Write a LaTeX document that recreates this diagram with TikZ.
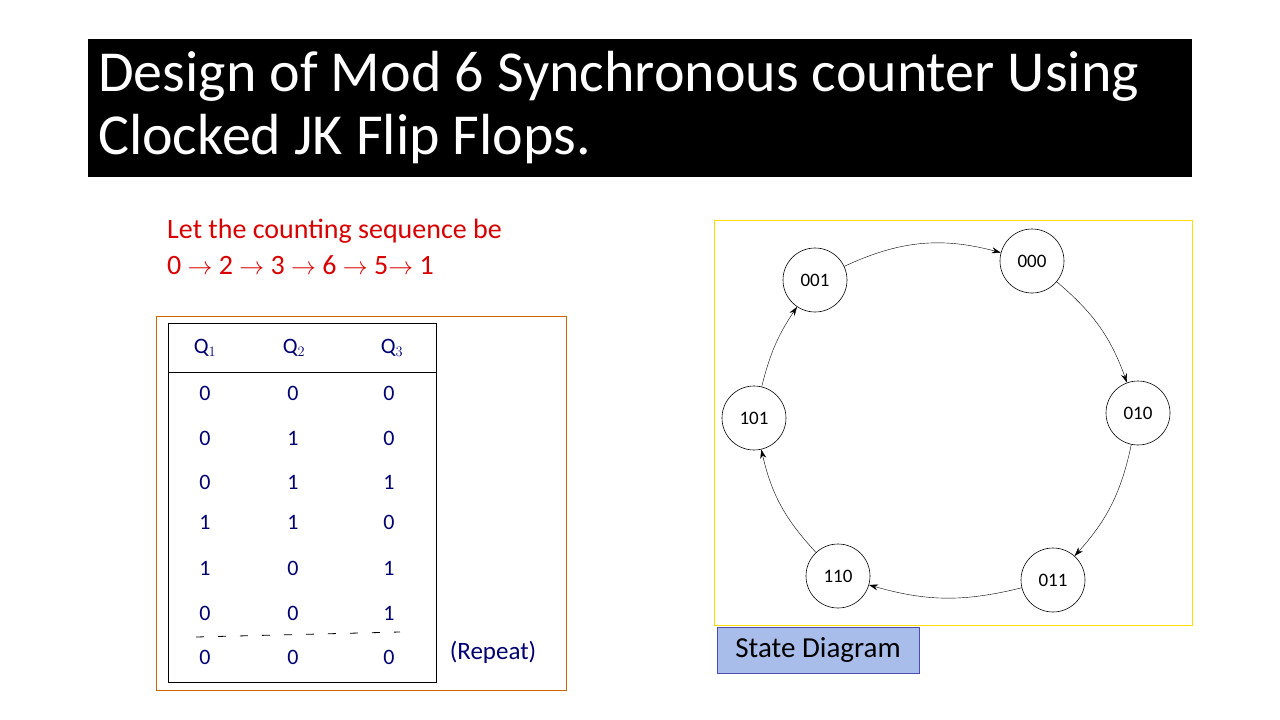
\documentclass[tikz,border=0pt]{standalone}
\usepackage{fontspec}
\setmainfont{Carlito}
\usetikzlibrary{arrows.meta}
\definecolor{sdblue}{HTML}{A9BDEB}
\begin{document}
\begin{tikzpicture}[x=1pt,y=-1pt,
  st/.style={circle,draw,semithick,minimum size=64pt,inner sep=0pt,font=\fontsize{19}{20}\selectfont},
  tr/.style={-{Stealth[length=9pt,width=6pt]},thin},
  hw/.style={text=blue!45!black,font=\fontsize{22}{24}\selectfont}]
\useasboundingbox (0,0) rectangle (1280,720);
\fill[white] (0,0) rectangle (1280,720);
\node[fill=black,minimum width=1104pt,minimum height=138pt,anchor=north west,inner sep=0pt] (title) at (88,39) {};
\node[text=white,anchor=north west,align=left,font=\fontsize{58}{63}\selectfont,inner sep=0pt] (tt) at (98,51) {Design of Mod 6 Synchronous counter Using\\Clocked JK Flip Flops.};
\node[text=red!85!black,anchor=north west,align=left,font=\fontsize{28}{36}\selectfont,inner sep=0pt] (seq) at (167,219) {Let the counting sequence be\\0 $\rightarrow$ 2 $\rightarrow$ 3 $\rightarrow$ 6 $\rightarrow$ 5$\rightarrow$ 1};
\draw[orange!80!black] (156,316) rectangle (566,690);
\draw[thick] (168,323) rectangle (436,682);
\draw[thick] (168,372) -- (436,372);
\node[hw] (h1) at (205,348) {Q$_1$};
\node[hw] (h2) at (294,348) {Q$_2$};
\node[hw] (h3) at (392,348) {Q$_3$};
\foreach \y/\a/\b/\c in {393/0/0/0,438/0/1/0,482/0/1/1,522/1/1/0,568/1/0/1,613/0/0/1,657/0/0/0}{
  \node[hw] at (205,\y) {\a};
  \node[hw] at (293,\y) {\b};
  \node[hw] at (389,\y) {\c};
}
\draw[thick,dash pattern=on 8pt off 14pt] (196,637) -- (400,632);
\node[hw,font=\fontsize{25}{26}\selectfont] (rep) at (493,652) {(Repeat)};
\draw[yellow!80!orange] (714,220) rectangle (1192,625);
\node[st] (s001) at (815,280) {001};
\node[st] (s000) at (1032,261) {000};
\node[st] (s010) at (1138,413) {010};
\node[st] (s011) at (1053,580) {011};
\node[st] (s110) at (838,576) {110};
\node[st] (s101) at (754,418) {101};
\draw[tr] (s001) to[bend left=20] (s000);
\draw[tr] (s000) to[bend left=15] (s010);
\draw[tr] (s010) to[bend left=15] (s011);
\draw[tr] (s011) to[bend left=15] (s110);
\draw[tr] (s110) to[bend left=15] (s101);
\draw[tr] (s101) to[bend left=10] (s001);
\node[fill=sdblue,draw=blue!40!gray,minimum width=202pt,minimum height=46pt,anchor=north west,inner sep=0pt] (sdb) at (717,627) {};
\node[font=\fontsize{29}{30}\selectfont] (sd) at (818,650) {State Diagram};
\end{tikzpicture}
\end{document}
